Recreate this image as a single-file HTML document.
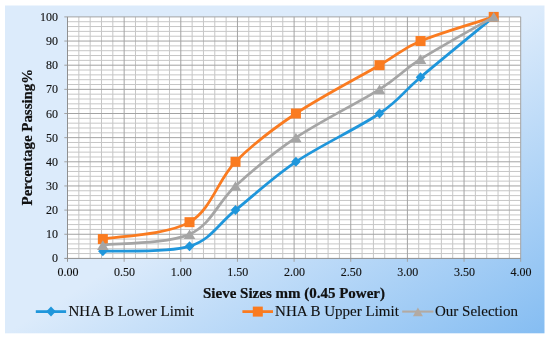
<!DOCTYPE html>
<html><head><meta charset="utf-8"><title>Gradation Chart</title>
<style>html,body{margin:0;padding:0;background:#fff;width:550px;height:339px;overflow:hidden}svg{display:block}</style>
</head><body><svg width="550" height="339" viewBox="0 0 550 339"><defs><linearGradient id="bg" x1="0" y1="0" x2="1" y2="1"><stop offset="0" stop-color="#dcebfb"/><stop offset="0.5" stop-color="#dcebfb"/><stop offset="1" stop-color="#85bdf2"/></linearGradient></defs><rect x="5" y="5.5" width="539.5" height="327.8" fill="url(#bg)"/><rect x="67.50" y="16.90" width="453.20" height="241.50" fill="#fff"/><path d="M67.50 253.57H520.70M67.50 248.74H520.70M67.50 243.91H520.70M67.50 239.08H520.70M67.50 229.42H520.70M67.50 224.59H520.70M67.50 219.76H520.70M67.50 214.93H520.70M67.50 205.27H520.70M67.50 200.44H520.70M67.50 195.61H520.70M67.50 190.78H520.70M67.50 181.12H520.70M67.50 176.29H520.70M67.50 171.46H520.70M67.50 166.63H520.70M67.50 156.97H520.70M67.50 152.14H520.70M67.50 147.31H520.70M67.50 142.48H520.70M67.50 132.82H520.70M67.50 127.99H520.70M67.50 123.16H520.70M67.50 118.33H520.70M67.50 108.67H520.70M67.50 103.84H520.70M67.50 99.01H520.70M67.50 94.18H520.70M67.50 84.52H520.70M67.50 79.69H520.70M67.50 74.86H520.70M67.50 70.03H520.70M67.50 60.37H520.70M67.50 55.54H520.70M67.50 50.71H520.70M67.50 45.88H520.70M67.50 36.22H520.70M67.50 31.39H520.70M67.50 26.56H520.70M67.50 21.73H520.70M78.83 16.90V258.40M90.16 16.90V258.40M101.49 16.90V258.40M112.82 16.90V258.40M135.48 16.90V258.40M146.81 16.90V258.40M158.14 16.90V258.40M169.47 16.90V258.40M192.13 16.90V258.40M203.46 16.90V258.40M214.79 16.90V258.40M226.12 16.90V258.40M248.78 16.90V258.40M260.11 16.90V258.40M271.44 16.90V258.40M282.77 16.90V258.40M305.43 16.90V258.40M316.76 16.90V258.40M328.09 16.90V258.40M339.42 16.90V258.40M362.08 16.90V258.40M373.41 16.90V258.40M384.74 16.90V258.40M396.07 16.90V258.40M418.73 16.90V258.40M430.06 16.90V258.40M441.39 16.90V258.40M452.72 16.90V258.40M475.38 16.90V258.40M486.71 16.90V258.40M498.04 16.90V258.40M509.37 16.90V258.40" stroke="#c6c6c6" stroke-width="1" fill="none"/><path d="M64.30 234.25H520.70M64.30 210.10H520.70M64.30 185.95H520.70M64.30 161.80H520.70M64.30 137.65H520.70M64.30 113.50H520.70M64.30 89.35H520.70M64.30 65.20H520.70M64.30 41.05H520.70M64.30 16.90H520.70M124.15 16.90V261.80M180.80 16.90V261.80M237.45 16.90V261.80M294.10 16.90V261.80M350.75 16.90V261.80M407.40 16.90V261.80M464.05 16.90V261.80M520.70 16.90V261.80" stroke="#a3a3a3" stroke-width="1" fill="none"/><path d="M64.30 258.40H520.70M67.50 16.90V258.40M67.50 258.40V261.80" stroke="#8f8f8f" stroke-width="1" fill="none"/><g font-family="Liberation Serif, serif" font-size="12" fill="#111" stroke="#111" stroke-width="0.12"><text x="58" y="262.45" text-anchor="end">0</text><text x="58" y="238.30" text-anchor="end">10</text><text x="58" y="214.15" text-anchor="end">20</text><text x="58" y="190.00" text-anchor="end">30</text><text x="58" y="165.85" text-anchor="end">40</text><text x="58" y="141.70" text-anchor="end">50</text><text x="58" y="117.55" text-anchor="end">60</text><text x="58" y="93.40" text-anchor="end">70</text><text x="58" y="69.25" text-anchor="end">80</text><text x="58" y="45.10" text-anchor="end">90</text><text x="58" y="20.95" text-anchor="end">100</text><text x="67.90" y="276.3" text-anchor="middle">0.00</text><text x="124.55" y="276.3" text-anchor="middle">0.50</text><text x="181.20" y="276.3" text-anchor="middle">1.00</text><text x="237.85" y="276.3" text-anchor="middle">1.50</text><text x="294.50" y="276.3" text-anchor="middle">2.00</text><text x="351.15" y="276.3" text-anchor="middle">2.50</text><text x="407.80" y="276.3" text-anchor="middle">3.00</text><text x="464.45" y="276.3" text-anchor="middle">3.50</text><text x="521.10" y="276.3" text-anchor="middle">4.00</text></g><text x="294" y="297.6" text-anchor="middle" font-family="Liberation Serif, serif" font-size="15" font-weight="bold" fill="#111" stroke="#000" stroke-width="0.2">Sieve Sizes mm (0.45 Power)</text><text transform="translate(31.8 137.1) rotate(-90)" x="0" y="0" text-anchor="middle" font-family="Liberation Serif, serif" font-size="14.9" font-weight="bold" fill="#111" stroke="#000" stroke-width="0.2">Percentage Passing%</text><path d="M102.85 251.15 C117.30 250.35 167.41 253.17 189.52 246.32 C211.63 239.48 217.78 224.19 235.51 210.10 C253.24 196.01 271.91 177.90 295.91 161.80 C319.92 145.70 358.76 127.59 379.53 113.50 C400.30 99.41 401.51 93.38 420.54 77.28 C439.58 61.18 481.54 26.96 493.73 16.90" stroke="#1f96db" stroke-width="2.75" fill="none" stroke-linejoin="round" stroke-linecap="round"/><path d="M102.85 246.15L107.65 251.15L102.85 256.15L98.05 251.15Z" fill="#1f96db"/><path d="M189.52 241.32L194.32 246.32L189.52 251.32L184.72 246.32Z" fill="#1f96db"/><path d="M235.51 205.10L240.31 210.10L235.51 215.10L230.71 210.10Z" fill="#1f96db"/><path d="M295.91 156.80L300.71 161.80L295.91 166.80L291.11 161.80Z" fill="#1f96db"/><path d="M379.53 108.50L384.33 113.50L379.53 118.50L374.73 113.50Z" fill="#1f96db"/><path d="M420.54 72.28L425.34 77.28L420.54 82.28L415.74 77.28Z" fill="#1f96db"/><path d="M493.73 11.90L498.53 16.90L493.73 21.90L488.93 16.90Z" fill="#1f96db"/><path d="M102.85 239.08 C117.30 236.26 167.41 235.05 189.52 222.17 C211.63 209.29 217.78 179.91 235.51 161.80 C253.24 143.69 271.91 129.60 295.91 113.50 C319.92 97.40 358.76 77.28 379.53 65.20 C400.30 53.13 401.51 49.10 420.54 41.05 C439.58 33.00 481.54 20.93 493.73 16.90" stroke="#fa7b20" stroke-width="2.75" fill="none" stroke-linejoin="round" stroke-linecap="round"/><rect x="97.85" y="234.08" width="10.00" height="10.00" fill="#fa7b20"/><rect x="184.52" y="217.17" width="10.00" height="10.00" fill="#fa7b20"/><rect x="230.51" y="156.80" width="10.00" height="10.00" fill="#fa7b20"/><rect x="290.91" y="108.50" width="10.00" height="10.00" fill="#fa7b20"/><rect x="374.53" y="60.20" width="10.00" height="10.00" fill="#fa7b20"/><rect x="415.54" y="36.05" width="10.00" height="10.00" fill="#fa7b20"/><rect x="488.73" y="11.90" width="10.00" height="10.00" fill="#fa7b20"/><path d="M102.85 245.12 C117.30 243.31 167.41 244.11 189.52 234.25 C211.63 224.39 217.78 202.05 235.51 185.95 C253.24 169.85 271.91 153.75 295.91 137.65 C319.92 121.55 358.76 102.43 379.53 89.35 C400.30 76.27 401.51 71.24 420.54 59.16 C439.58 47.09 481.54 23.94 493.73 16.90" stroke="#a5a5a5" stroke-width="2.75" fill="none" stroke-linejoin="round" stroke-linecap="round"/><path d="M102.85 240.32L108.65 249.92L97.05 249.92Z" fill="#a5a5a5"/><path d="M189.52 229.45L195.32 239.05L183.72 239.05Z" fill="#a5a5a5"/><path d="M235.51 181.15L241.31 190.75L229.71 190.75Z" fill="#a5a5a5"/><path d="M295.91 132.85L301.71 142.45L290.11 142.45Z" fill="#a5a5a5"/><path d="M379.53 84.55L385.33 94.15L373.73 94.15Z" fill="#a5a5a5"/><path d="M420.54 54.36L426.34 63.96L414.74 63.96Z" fill="#a5a5a5"/><path d="M493.73 12.10L499.53 21.70L487.93 21.70Z" fill="#a5a5a5"/><path d="M35.80 311.60H66.10" stroke="#1f96db" stroke-width="2.75"/><path d="M51.00 306.60L55.80 311.60L51.00 316.60L46.20 311.60Z" fill="#1f96db"/><text x="68.50" y="316.4" font-family="Liberation Serif, serif" font-size="15" fill="#111" stroke="#111" stroke-width="0.12">NHA B Lower Limit</text><path d="M242.40 311.60H273.00" stroke="#fa7b20" stroke-width="2.75"/><rect x="252.80" y="306.60" width="10.00" height="10.00" fill="#fa7b20"/><text x="275.10" y="316.4" font-family="Liberation Serif, serif" font-size="15" fill="#111" stroke="#111" stroke-width="0.12">NHA B Upper Limit</text><path d="M402.20 311.60H433.50" stroke="#b3aaa2" stroke-width="2.10"/><path d="M417.90 307.40L422.90 316.20L412.90 316.20Z" fill="#b3aaa2"/><text x="435.00" y="316.4" font-family="Liberation Serif, serif" font-size="15" fill="#111" stroke="#111" stroke-width="0.12">Our Selection</text></svg></body></html>
